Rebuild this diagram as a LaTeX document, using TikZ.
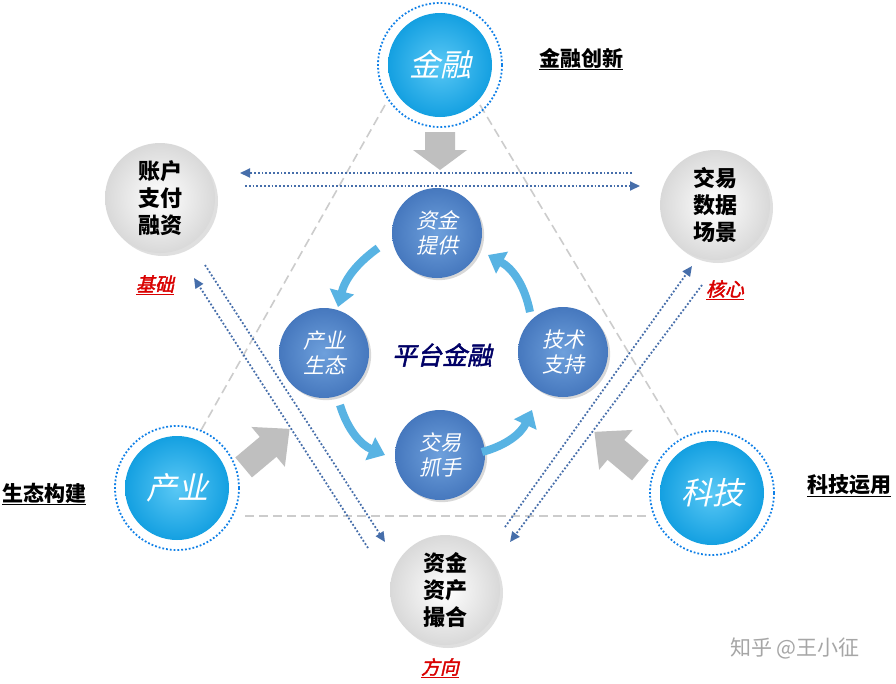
\documentclass[tikz,border=0pt]{standalone}
\usepackage{fontspec}
\newfontfamily\cjk{Noto Sans CJK SC}
\newfontfamily\cjkit[FakeSlant=0.22]{Noto Sans CJK SC}
\newfontfamily\cjkbi[FakeSlant=0.22,FakeBold=2]{Noto Sans CJK SC}
\usetikzlibrary{arrows.meta,shadows}
\definecolor{cyanb}{RGB}{20,160,225}
\definecolor{cyanl}{RGB}{90,200,245}
\definecolor{steel}{RGB}{70,120,190}
\definecolor{steell}{RGB}{110,160,220}
\definecolor{dotc}{RGB}{70,110,170}
\begin{document}
\begin{tikzpicture}[x=1pt,y=-1pt,
 bigblue/.style={circle,minimum size=104pt,inner sep=0pt,inner color=cyanl,outer color=cyanb,text=white,font=\cjkit\fontsize{31}{33}\selectfont},
 ring/.style={circle,draw=cyanb!80!blue,dotted,line width=1.8pt,minimum size=124pt},
 graybig/.style={circle,minimum size=110pt,inner sep=0pt,inner color=white,outer color=gray!30,drop shadow={opacity=0.25,shadow xshift=3pt,shadow yshift=-3pt},align=center,font=\cjk\bfseries\fontsize{22}{27}\selectfont},
 small/.style={circle,minimum size=90pt,inner sep=0pt,inner color=steell,outer color=steel,drop shadow={opacity=0.3},align=center,text=white,font=\cjkit\fontsize{21}{25}\selectfont},
 lab/.style={font=\cjk\bfseries\fontsize{21}{24}\selectfont},
 redlab/.style={font=\cjkbi\fontsize{19}{22}\selectfont,text=red!85!black},
 dl/.style={dotted,line width=1.8pt,draw=dotc,-{Triangle[length=10pt,width=9pt,fill=dotc]}},
 gdash/.style={dashed,dash pattern=on 9pt off 5pt,line width=1.6pt,draw=gray!40},
 garrow/.style={draw=none,fill=gray!50},
 carrow/.style={line width=8pt,draw=steell!80!cyan,-{Triangle[length=16pt,width=24pt]}}
]
\useasboundingbox (0,0) rectangle (896,683);
\fill[white] (0,0) rectangle (896,683);
% dashed triangle
\coordinate (t1) at (385,105); \coordinate (t2) at (200,432);
\coordinate (t3) at (480,105); \coordinate (t4) at (678,435);
\coordinate (h1) at (245,516); \coordinate (h2) at (650,516);
\draw[gdash] (t1)--(t2); \draw[gdash] (t3)--(t4); \draw[gdash] (h1)--(h2);
% dotted arrows
\coordinate (a1) at (632,173); \coordinate (a2) at (240,173);
\coordinate (a3) at (245,186); \coordinate (a4) at (640,186);
\draw[dl] (a1)--(a2); \draw[dl] (a3)--(a4);
\coordinate (b1) at (205,265); \coordinate (b2) at (385,542);
\coordinate (b3) at (368,548); \coordinate (b4) at (194,278);
\draw[dl] (b1)--(b2); \draw[dl] (b3)--(b4);
\coordinate (c1) at (505,527); \coordinate (c2) at (692,266);
\coordinate (c3) at (702,285); \coordinate (c4) at (510,542);
\draw[dl] (c1)--(c2); \draw[dl] (c3)--(c4);
% gray block arrows
\fill[garrow] (425,132) -- (455,132) -- (455,150) -- (467,150) -- (440,170) -- (413,150) -- (425,150) -- cycle;
\begin{scope}[shift={(262,452)},rotate=40]
\fill[garrow] (-24,-13) -- (8,-13) -- (8,-26) -- (36,0) -- (8,26) -- (8,13) -- (-24,13) -- cycle;
\end{scope}
\begin{scope}[shift={(622,455)},rotate=140]
\fill[garrow] (-24,-13) -- (8,-13) -- (8,-26) -- (36,0) -- (8,26) -- (8,13) -- (-24,13) -- cycle;
\end{scope}
% big nodes
\node[ring] (r1) at (440,65) {};
\node[bigblue] (jr) at (440,65) {金融};
\node[ring] (r2) at (177,488) {};
\node[bigblue] (cy) at (177,488) {产业};
\node[ring] (r3) at (712,493) {};
\node[bigblue] (kj) at (712,493) {科技};
\node[graybig] (zh) at (160,198) {账户\\支付\\融资};
\node[graybig] (jy) at (715,205) {交易\\数据\\场景};
\node[graybig] (zj) at (445,590) {资金\\资产\\撮合};
% labels
\node[lab] (l1) at (581,59) {\underline{金融创新}};
\node[lab] (l2) at (44,494) {\underline{生态构建}};
\node[lab] (l3) at (849,486) {\underline{科技运用}};
\node[redlab] (l4) at (155,285) {\underline{基础}};
\node[redlab] (l5) at (725,290) {\underline{核心}};
\node[redlab] (l6) at (440,668) {\underline{方向}};
% inner cycle
\node[small] (s1) at (437,233) {资金\\提供};
\node[small] (s2) at (324,353) {产业\\生态};
\node[small] (s3) at (563,352) {技术\\支持};
\node[small] (s4) at (440,455) {交易\\抓手};
\node[font=\cjkbi\fontsize{25}{28}\selectfont,text=blue!40!black] (pt) at (442,355) {平台金融};
\draw[carrow] (378,248) to[bend right=20] (338,307);
\draw[carrow] (340,405) to[bend right=25] (385,455);
\draw[carrow] (482,452) to[bend right=25] (532,410);
\draw[carrow] (530,312) to[bend right=25] (488,255);
% watermark
\node[font=\cjk\fontsize{21}{24}\selectfont,text=gray!70] (wm) at (795,648) {知乎 @王小征};
\end{tikzpicture}
\end{document}
